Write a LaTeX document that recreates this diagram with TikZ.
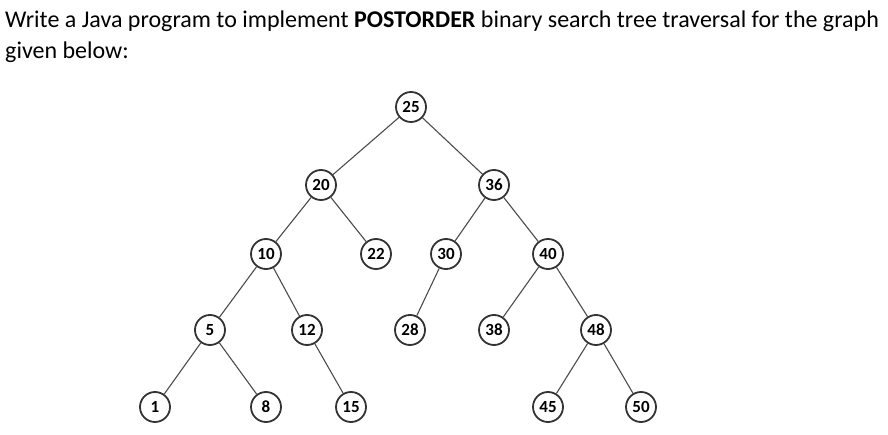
\documentclass[tikz,border=0pt]{standalone}
\usepackage{fontspec}
\setmainfont{Carlito}
\usetikzlibrary{positioning}
\begin{document}
\begin{tikzpicture}[x=1pt,y=-1pt]
% style of nodes
\tikzset{treenode/.style={circle,draw=black!80,line width=1.8pt,minimum size=30pt,inner sep=0pt,font=\fontsize{17}{17}\selectfont\bfseries},
         treeedge/.style={draw=black!70,line width=1.1pt}}
\useasboundingbox (0,0) rectangle (888,435);
% question
\node[anchor=base west,inner sep=0pt,font=\fontsize{24}{28}\selectfont] (q1) at (5,28)
  {Write a Java program to implement \textbf{POSTORDER} binary search tree traversal for the graph};
\node[anchor=base west,inner sep=0pt,font=\fontsize{24}{28}\selectfont] (q2) at (5,59) {given below:};
% nodes
\node[treenode] (n25) at (411,107) {25};
\node[treenode] (n20) at (321,185) {20};
\node[treenode] (n36) at (494,185) {36};
\node[treenode] (n10) at (266,254) {10};
\node[treenode] (n22) at (376,254) {22};
\node[treenode] (n30) at (446,254) {30};
\node[treenode] (n40) at (548,254) {40};
\node[treenode] (n5)  at (210,330) {5};
\node[treenode] (n12) at (307,330) {12};
\node[treenode] (n28) at (410,330) {28};
\node[treenode] (n38) at (494,330) {38};
\node[treenode] (n48) at (596,330) {48};
\node[treenode] (n1)  at (155,407) {1};
\node[treenode] (n8)  at (266,407) {8};
\node[treenode] (n15) at (351,407) {15};
\node[treenode] (n45) at (548,407) {45};
\node[treenode] (n50) at (641,407) {50};
% edges
\foreach \a/\b in {25/20,25/36,20/10,20/22,10/5,10/12,5/1,5/8,12/15,36/30,36/40,30/28,40/38,40/48,48/45,48/50}
  \draw[treeedge] (n\a) -- (n\b);
\end{tikzpicture}
\end{document}
